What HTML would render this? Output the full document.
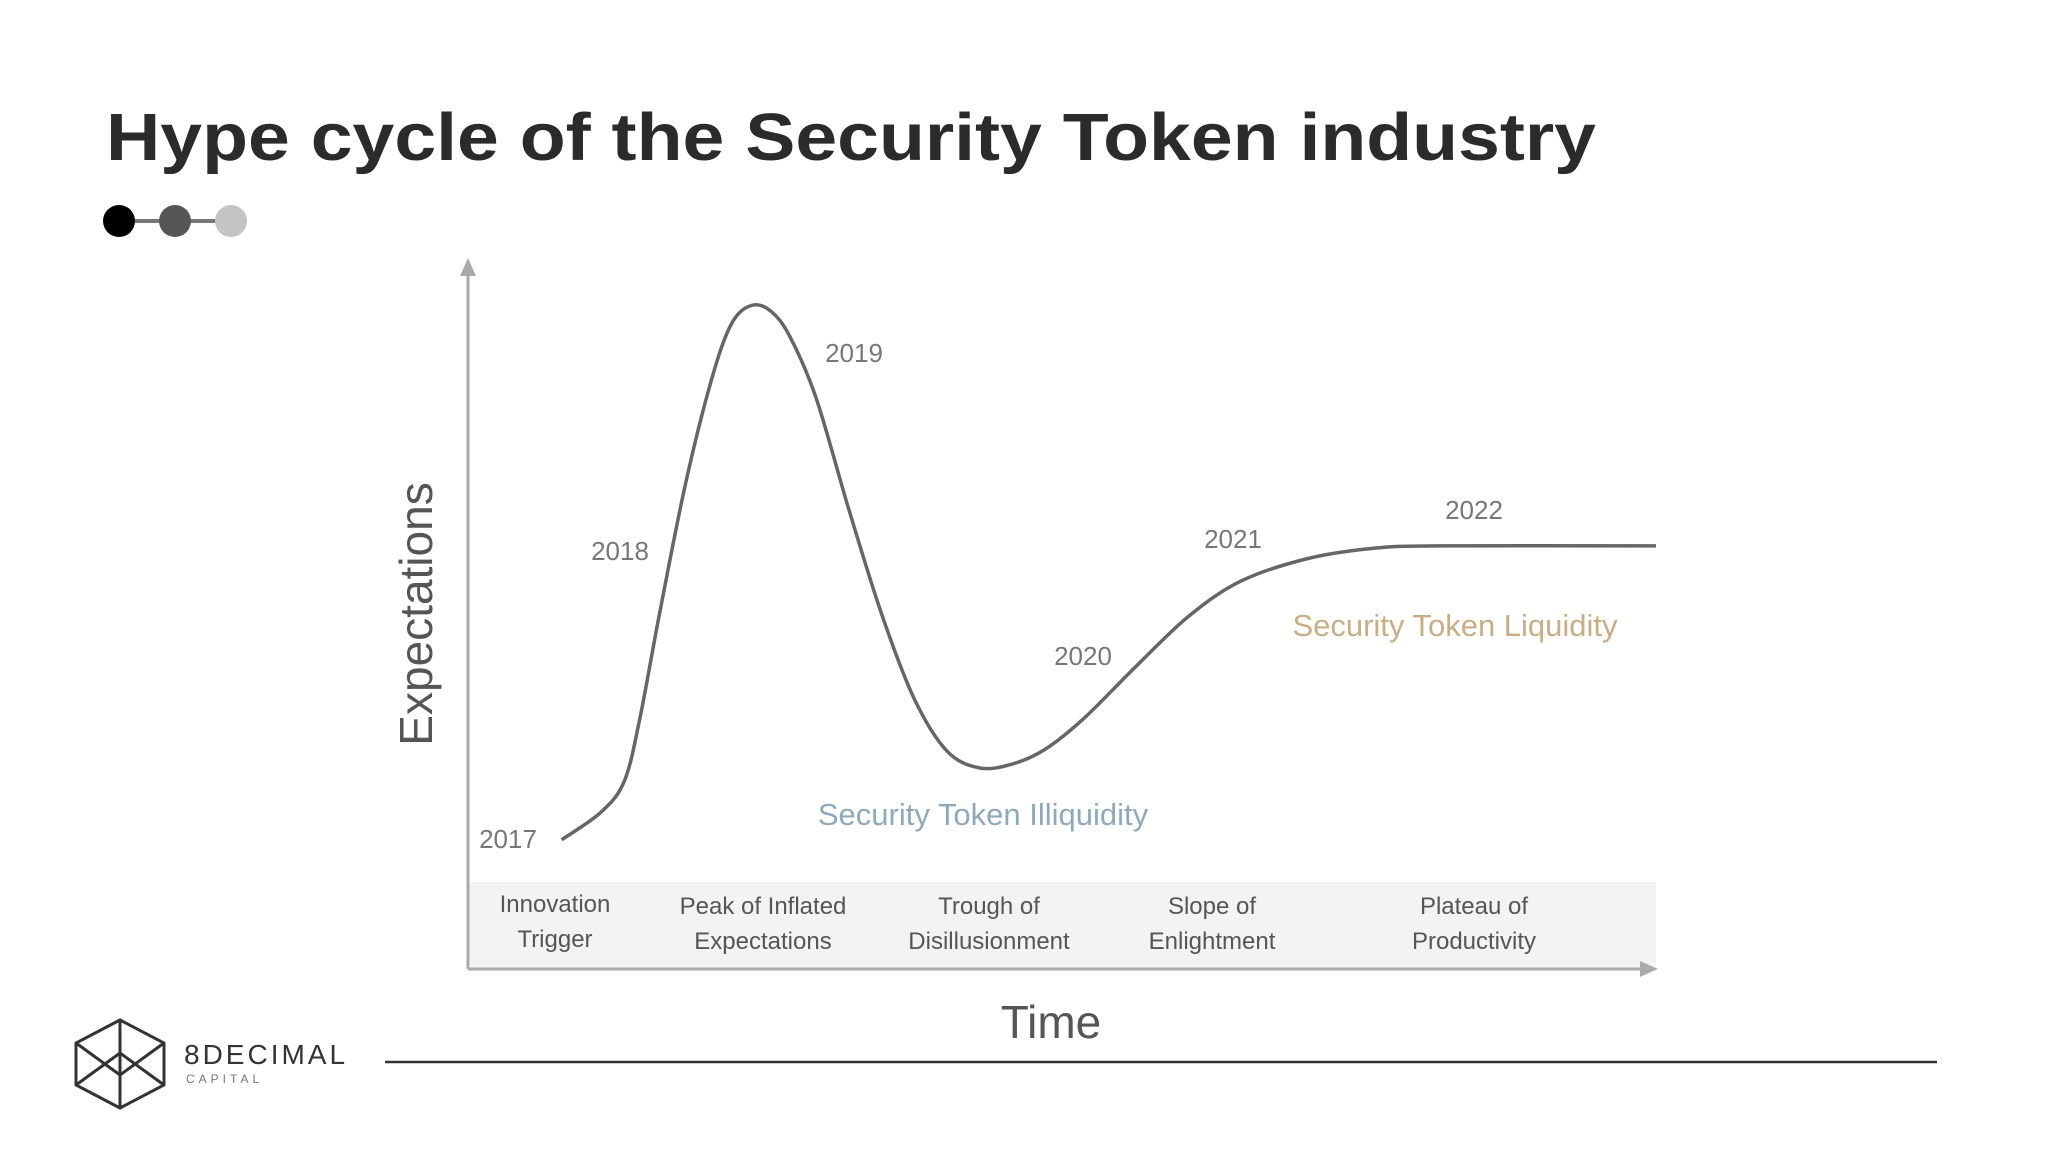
<!DOCTYPE html>
<html><head><meta charset="utf-8"><style>
html,body{margin:0;padding:0;background:#fff;width:2048px;height:1152px;overflow:hidden;font-family:"Liberation Sans",sans-serif}
</style></head><body>
<svg width="2048" height="1152" viewBox="0 0 2048 1152" xmlns="http://www.w3.org/2000/svg">
<text x="106" y="160" font-size="67" font-weight="bold" fill="#2b2b2b" textLength="1490" lengthAdjust="spacingAndGlyphs">Hype cycle of the Security Token industry</text>
<g>
<line x1="119" y1="221" x2="231" y2="221" stroke="#777" stroke-width="4"/>
<circle cx="119" cy="221" r="16" fill="#000"/>
<circle cx="175" cy="221" r="16" fill="#555"/>
<circle cx="231" cy="221" r="16" fill="#c4c4c4"/>
</g>
<rect x="470" y="882" width="1186" height="86" fill="#f3f3f3"/>
<g stroke="#aaa" stroke-width="3" fill="#aaa">
<line x1="468" y1="969" x2="468" y2="270"/>
<polygon points="460,276 468,258 476,276" stroke="none"/>
<line x1="468" y1="969" x2="1646" y2="969"/>
<polygon points="1640,961 1658,969 1640,977" stroke="none"/>
</g>
<g id="curve"></g>
<g font-size="26" fill="#777" text-anchor="middle">
<text x="508" y="848">2017</text><text x="620" y="560">2018</text><text x="854" y="362">2019</text>
<text x="1083" y="665">2020</text><text x="1233" y="548">2021</text><text x="1474" y="519">2022</text>
</g>
<text x="1455" y="636" font-size="31" fill="#c8ae86" text-anchor="middle">Security Token Liquidity</text>
<text x="983" y="825" font-size="31" fill="#8fa9bb" text-anchor="middle">Security Token Illiquidity</text>
<g font-size="24" fill="#555" text-anchor="middle">
<text x="555" y="912">Innovation</text><text x="555" y="947">Trigger</text>
<text x="763" y="914">Peak of Inflated</text><text x="763" y="949">Expectations</text>
<text x="989" y="914">Trough of</text><text x="989" y="949">Disillusionment</text>
<text x="1212" y="914">Slope of</text><text x="1212" y="949">Enlightment</text>
<text x="1474" y="914">Plateau of</text><text x="1474" y="949">Productivity</text>
</g>
<text transform="translate(432,614) rotate(-90)" font-size="46" fill="#555" text-anchor="middle">Expectations</text>
<text x="1051" y="1038" font-size="46" fill="#555" text-anchor="middle">Time</text>
<g stroke="#333" stroke-width="3" fill="none">
<polygon points="120,1020 164,1043 164,1085 120,1108 76,1085 76,1043"/>
<line x1="120" y1="1020" x2="120" y2="1108"/>
<polyline points="76,1043 120,1075 164,1043"/>
<polyline points="76,1085 120,1053 164,1085"/>
</g>
<text x="184" y="1064" font-size="28" fill="#333" letter-spacing="3">8DECIMAL</text>
<text x="186" y="1083" font-size="12" fill="#777" letter-spacing="4">CAPITAL</text>
<line x1="385" y1="1062" x2="1937" y2="1062" stroke="#333" stroke-width="2.5"/>
</svg>
<script>
const timeValues=[7.88,11.18,13.16,14.47,16.12,18.32,20.52,22.17,23.82,25.46,27.11,29.31,32.06,34.81,37.56,40.31,43.06,45.81,48.55,51.85,56.25,60.65,65.04,70.54,76.04,81.53,100];
const expectationValues=[18.25,22.13,26.55,35.41,50.17,68.61,83.37,91.11,93.7,92.96,89.28,80.6,64.9,50.17,38.17,30.8,28.4,28.95,31.0,35.41,42.78,49.8,54.77,57.91,59.39,59.76,59.76];
const sx=v=>468+v/100*1188, sy=v=>969-v/100*708;
const P=timeValues.map((t,i)=>[sx(t),sy(expectationValues[i])]);
let d=`M${P[0][0]},${P[0][1]}`;
for(let i=0;i<P.length-1;i++){const p0=P[i-1]||P[i],p1=P[i],p2=P[i+1],p3=P[i+2]||p2;
d+=` C${p1[0]+(p2[0]-p0[0])/6},${p1[1]+(p2[1]-p0[1])/6} ${p2[0]-(p3[0]-p1[0])/6},${p2[1]-(p3[1]-p1[1])/6} ${p2[0]},${p2[1]}`;}
const path=document.createElementNS('http://www.w3.org/2000/svg','path');
path.setAttribute('d',d);path.setAttribute('fill','none');path.setAttribute('stroke','#666');path.setAttribute('stroke-width','3.5');


document.getElementById('curve').appendChild(path);
</script>
</body></html>
